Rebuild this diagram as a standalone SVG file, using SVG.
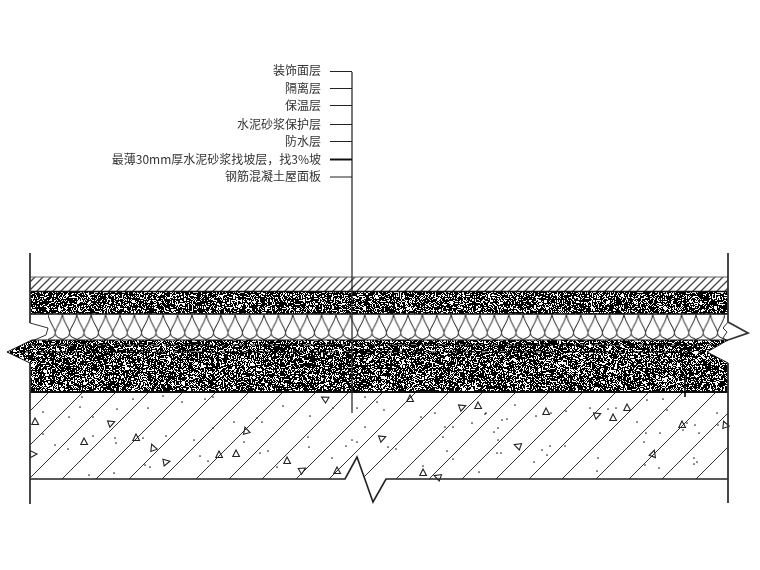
<svg xmlns="http://www.w3.org/2000/svg" width="760" height="570" viewBox="0 0 760 570">
<style>
.t{font-family:"Noto Sans CJK SC","Liberation Sans",sans-serif;font-size:12px;fill:#333;text-anchor:end}
.l{fill:none;stroke:#222;stroke-width:1.2}
.w{fill:none;stroke:#333;stroke-width:1.8}
.h{fill:none;stroke:#333;stroke-width:1}
.d{fill:none;stroke:#222;stroke-width:1.7;stroke-linecap:round}
.tr{fill:none;stroke:#222;stroke-width:1.1}
</style>
<defs>
<filter id="soft" x="0" y="0" width="760" height="570" filterUnits="userSpaceOnUse"><feGaussianBlur stdDeviation="0.4"/></filter>
<filter id="gravel" x="0" y="280" width="760" height="120" filterUnits="userSpaceOnUse" color-interpolation-filters="sRGB">
<feTurbulence type="fractalNoise" baseFrequency="0.16" numOctaves="2" seed="7" result="n"/>
<feColorMatrix in="n" values="1 0 0 0 0 1 0 0 0 0 1 0 0 0 0 0 0 0 0 1" result="g"/>
<feComponentTransfer in="g" result="m"><feFuncR type="discrete" tableValues="1 1 1 1 1 0 0 1 0 0 1 0 0 1 1 1 1 1"/><feFuncG type="discrete" tableValues="1 1 1 1 1 0 0 1 0 0 1 0 0 1 1 1 1 1"/><feFuncB type="discrete" tableValues="1 1 1 1 1 0 0 1 0 0 1 0 0 1 1 1 1 1"/></feComponentTransfer>
<feComposite in="m" in2="SourceGraphic" operator="in"/>
</filter>
<pattern id="hat" width="8" height="8" patternUnits="userSpaceOnUse"><path d="M-1,1L1,-1M0,8L8,0M7,9L9,7" stroke="#444" stroke-width="1.3" fill="none"/></pattern>
<pattern id="ins" x="48" y="314" width="14.4" height="26" patternUnits="userSpaceOnUse"><path d="M0,0C1,9 7,13 7.2,19S13,23 14.4,26M14.4,0C13.4,9 7.4,13 7.2,19S1.4,23 0,26" stroke="#333" stroke-width="1" fill="none"/></pattern>
<clipPath id="cc"><path d="M30,393H728V479H386L373,502L357,457L345,479H30Z"/></clipPath>
<path id="a" d="M0,-4L3.5,2.5L-3.2,2.5Z" class="tr"/>
</defs>
<rect width="760" height="570" fill="#fff"/>
<g filter="url(#soft)">
<g id="layer-finish"><rect x="30" y="277" width="698" height="14" fill="url(#hat)"/><path d="M30,277H728" stroke="#666" stroke-width="1.2"/></g>
<g id="layer-isolation"><rect x="30" y="291" width="698" height="23" fill="#000" filter="url(#gravel)"/><path d="M30,291.5H728M30,314H728" stroke="#111" stroke-width="1.5"/></g>
<g id="layer-insulation"><rect x="48" y="314" width="677" height="26" fill="url(#ins)"/><path d="M30,323L48,328L46,335L32,341M728,322L723,328L727,332L723,338L728,341" class="h"/></g>
<g id="layer-screed"><path d="M7,352L32,340H728L707,352L728,363V393H30V363Z" fill="#000" filter="url(#gravel)"/><path d="M7,352L32,340H728L707,352L728,363M7,352L30,363" fill="none" stroke="#111" stroke-width="1"/><path d="M28,345H716M18,352H705" stroke="#000" stroke-width="1.2" stroke-dasharray="14 5 30 4 9 6"/><path d="M30,392H728" stroke="#111" stroke-width="2"/><path d="M685,375V397" stroke="#000" stroke-width="1.6"/></g>
<g id="layer-concrete">
<path clip-path="url(#cc)" class="h" d="M-38,479l86,-86M-4,479l86,-86M29,479l86,-86M62,479l86,-86M96,479l86,-86M129,479l86,-86M162,479l86,-86M196,479l86,-86M229,479l86,-86M262,479l86,-86M296,479l86,-86M329,479l86,-86M362,479l86,-86M396,479l86,-86M429,479l86,-86M462,479l86,-86M496,479l86,-86M529,479l86,-86M562,479l86,-86M596,479l86,-86M629,479l86,-86M662,479l86,-86M696,479l86,-86"/>
<path class="d" d="M43 412h0M43 434h0M69 417h0M80 407h0M82 397h0M93 417h0M93 436h0M55 445h0M68 449h0M115 438h0M116 443h0M117 409h0M148 408h0M133 399h0M143 438h0M166 436h0M163 396h0M182 402h0M213 397h0M205 399h0M89 475h0M114 473h0M145 465h0M150 467h0M200 456h0M208 461h0M194 440h0M213 428h0M283 406h0M257 418h0M262 422h0M234 422h0M244 442h0M268 451h0M260 453h0M310 416h0M308 437h0M309 447h0M277 467h0M365 397h0M377 402h0M357 408h0M333 408h0M384 410h0M365 427h0M346 446h0M352 440h0M357 442h0M332 458h0M388 447h0M396 449h0M421 417h0M435 413h0M453 427h0M445 427h0M443 437h0M447 451h0M453 459h0M472 423h0M486 413h0M494 432h0M423 466h0M479 472h0M515 405h0M485 414h0M502 420h0M507 419h0M498 428h0M498 440h0M497 453h0M501 453h0M536 416h0M551 413h0M566 411h0M542 450h0M550 446h0M565 446h0M547 455h0M534 462h0M590 408h0M608 409h0M616 408h0M647 400h0M663 399h0M667 410h0M637 422h0M646 433h0M660 433h0M644 442h0M687 423h0M695 425h0M683 430h0M699 433h0M598 458h0M597 471h0M659 468h0M694 458h0M697 462h0M694 464h0M645 465h0M717 413h0M718 425h0"/>
<use href="#a" x="35" y="422"/><use href="#a" transform="translate(111,423) rotate(70)"/><use href="#a" x="84" y="442"/><use href="#a" x="136" y="438"/><use href="#a" transform="translate(153,448) rotate(-20)"/><use href="#a" transform="translate(33,454) rotate(90)"/><use href="#a" transform="translate(166,462) rotate(80)"/><use href="#a" x="219" y="455"/><use href="#a" x="236" y="454"/><use href="#a" transform="translate(246,431) rotate(-15)"/><use href="#a" x="287" y="461"/><use href="#a" transform="translate(302,470) rotate(60)"/><use href="#a" transform="translate(325,399) rotate(-60)"/><use href="#a" x="337" y="471"/><use href="#a" transform="translate(382,438) rotate(70)"/><use href="#a" x="410" y="399"/><use href="#a" x="423" y="473"/><use href="#a" transform="translate(438,477) rotate(-70)"/><use href="#a" transform="translate(462,407) rotate(70)"/><use href="#a" x="478" y="406"/><use href="#a" x="546" y="412"/><use href="#a" transform="translate(518,446) rotate(-70)"/><use href="#a" transform="translate(597,415) rotate(70)"/><use href="#a" x="613" y="418"/><use href="#a" x="627" y="408"/><use href="#a" x="682" y="425"/><use href="#a" transform="translate(653,454) rotate(20)"/><use href="#a" transform="translate(725,425) rotate(-20)"/>
<path d="M30,479H345L357,457L373,502L386,479H728" fill="none" stroke="#222" stroke-width="1.6"/>
</g>
<g id="walls"><path class="w" d="M30,253V323M30,363V504M728,253V322L748,333L728,340M728,363V503" stroke-linejoin="miter"/></g>
<g id="connectors"><path class="l" d="M352,72V413M330,71.5H352M330,88.5H352M330,105.5H352M330,124.5H352M330,141.5H352M330,177H352"/><path d="M330,159.5H352" stroke="#111" stroke-width="2"/></g>
<g id="label-1"><text class="t" x="321" y="75">装饰面层</text></g>
<g id="label-2"><text class="t" x="321" y="93">隔离层</text></g>
<g id="label-3"><text class="t" x="321" y="110">保温层</text></g>
<g id="label-4"><text class="t" x="321" y="129">水泥砂浆保护层</text></g>
<g id="label-5"><text class="t" x="321" y="146">防水层</text></g>
<g id="label-6"><text class="t" x="321" y="164">最薄30mm厚水泥砂浆找坡层，找3%坡</text></g>
<g id="label-7"><text class="t" x="321" y="181">钢筋混凝土屋面板</text></g>
</g>
</svg>
